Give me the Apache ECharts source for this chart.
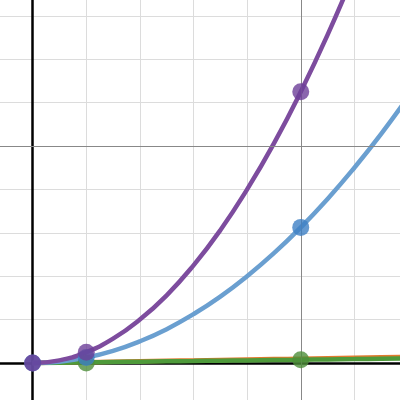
<!DOCTYPE html>
<html>
<head>
<meta charset="UTF-8">
<script src="https://cdn.jsdelivr.net/npm/echarts@6/dist/echarts.min.js"></script>
</head>
<body style="margin:0">
<div id="chart" style="width:400px;height:400px"></div>
<script>
const xs = [0, 0.5, 1, 1.5, 2, 2.5, 3, 3.5, 4, 4.5, 5, 5.5, 6, 6.5, 7];
const purpleVals = [0, 0.06, 0.25, 0.56, 1, 1.56, 2.25, 3.06, 4, 5.06, 6.25, 7.56, 9, 10.56, 12.25];
const blueVals = [0, 0.03, 0.125, 0.28, 0.5, 0.78, 1.125, 1.53, 2, 2.53, 3.125, 3.78, 4.5, 5.28, 6.125];
const orangeVals = [0, 0.01, 0.02, 0.03, 0.04, 0.05, 0.06, 0.07, 0.08, 0.09, 0.1, 0.11, 0.12, 0.13, 0.14];
const greenVals = [0, 0.008, 0.015, 0.023, 0.03, 0.038, 0.045, 0.053, 0.06, 0.068, 0.075, 0.083, 0.09, 0.098, 0.105];
const purplePts = [[0, 0], [1, 0.25], [5, 6.25]];
const bluePts = [[0, 0], [1, 0.125], [5, 3.125]];
const greenPts = [[1, 0], [5, 0.075]];

const pairs = vals => xs.map((x, i) => [x, vals[i]]);
const line = (vals, color) => ({
  type: 'line', data: pairs(vals), smooth: true, showSymbol: false,
  lineStyle: { color: color, width: 4.5 }, silent: true
});
const dots = (pts, color) => ({
  type: 'scatter', data: pts, symbolSize: 17, itemStyle: { color: color }, z: 5
});
const gridLine = { show: true, lineStyle: { color: '#dcdcdc', width: 1 } };
const major = { color: '#888', width: 1, type: 'solid' };

const chart = echarts.init(document.getElementById('chart'));
chart.setOption({
  animation: false,
  grid: { left: -21, right: -8, top: -27.6, bottom: -6.4, containLabel: false, outerBoundsMode: 'none' },
  xAxis: {
    type: 'value', min: -1, max: 7, interval: 1,
    axisLabel: { show: false }, axisTick: { show: false },
    axisLine: { show: true, onZero: true, lineStyle: { color: '#000', width: 2.5 } },
    splitLine: gridLine
  },
  yAxis: {
    type: 'value', min: -1, max: 9, interval: 1,
    axisLabel: { show: false }, axisTick: { show: false },
    axisLine: { show: true, onZero: true, lineStyle: { color: '#000', width: 2.5 } },
    splitLine: gridLine
  },
  series: [
    {
      type: 'line', data: [], markLine: {
        silent: true, symbol: 'none', label: { show: false }, lineStyle: major,
        data: [{ xAxis: 5 }, { yAxis: 5 }]
      }
    },
    line(orangeVals, '#e07b2f'),
    line(greenVals, '#4e9a3a'),
    line(blueVals, '#6a9fd0'),
    line(purpleVals, '#7d4c9e'),
    dots(greenPts, '#4e8f3a'),
    dots(bluePts, '#3d7fc4'),
    dots(purplePts, '#6d3f98')
  ]
});
</script>
</body>
</html>
